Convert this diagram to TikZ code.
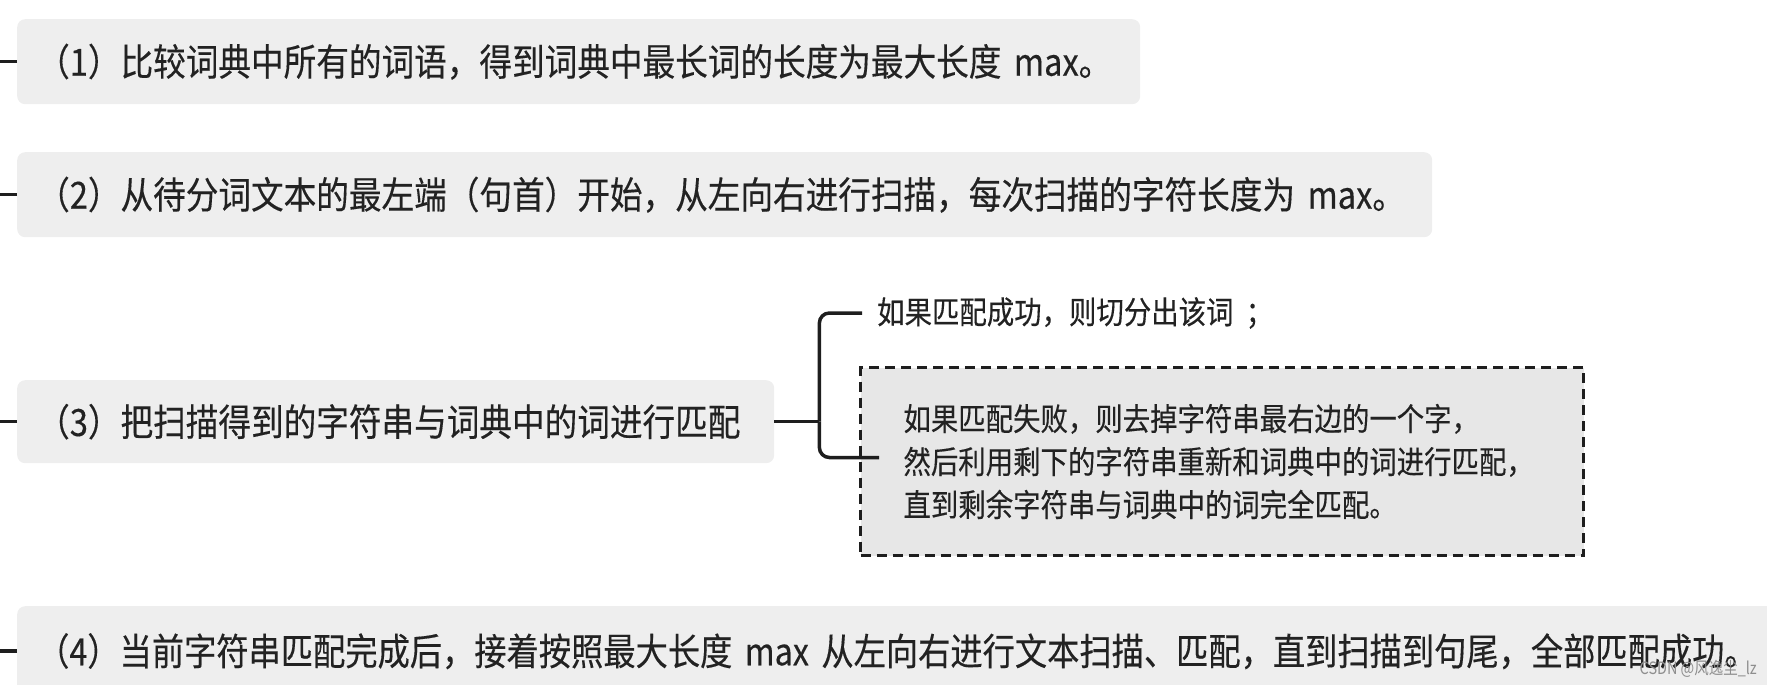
\documentclass[tikz,border=0pt]{standalone}
\usepackage{fontspec}
\newfontfamily\cjk[FakeStretch=0.87,FakeBold=0.3]{Noto Sans CJK SC}
\newfontfamily\cjkn[FakeStretch=0.86,FakeBold=0.3]{Noto Sans CJK SC}
\newfontfamily\cjkwm[FakeStretch=0.85]{Noto Sans CJK SC}
\definecolor{boxfill}{HTML}{EEEEEE}
\definecolor{dashfill}{HTML}{E7E7E7}
\definecolor{linec}{HTML}{1E1E1E}
\definecolor{txt}{HTML}{222222}
\definecolor{wm}{HTML}{8E8E8E}
\begin{document}
\begin{tikzpicture}[x=1pt,y=-1pt,
  mainbox/.style={fill=boxfill, rounded corners=8pt, anchor=north west, inner xsep=20pt, inner ysep=0pt,
    align=left, font=\cjk\fontsize{37.5}{45}\selectfont, text=txt, minimum height=85pt},
  subtext/.style={inner sep=0pt, anchor=west, font=\cjk\fontsize{31.5}{43}\selectfont, text=txt},
  dashbox/.style={fill=dashfill, draw=linec, line width=3pt, dash pattern=on 10pt off 6pt,
    anchor=north west, minimum width=723pt, minimum height=188pt, inner xsep=43pt, inner ysep=0pt,
    text width=637pt, align=left, font=\cjk\fontsize{31.5}{43}\selectfont, text=txt},
  conn/.style={draw=linec, line width=3.5pt},
  wmark/.style={inner sep=0pt, anchor=east, font=\cjkwm\fontsize{17}{20}\selectfont, text=wm}]
\useasboundingbox (0,0) rectangle (1767,685);
\clip (0,0) rectangle (1767,685);
\coordinate (L) at (0,0);

\node[mainbox, text width=1083pt] (b1) at (17,19) {（1）比较词典中所有的词语，得到词典中最长词的长度为最大长度~max。};
\node[mainbox, text width=1375pt] (b2) at (17,152) {（2）从待分词文本的最左端（句首）开始，从左向右进行扫描，每次扫描的字符长度为~max。};
\node[mainbox, text width=717pt, minimum height=83pt] (b3) at (17,380) {（3）把扫描得到的字符串与词典中的词进行匹配};
\node[mainbox, text width=1743pt, minimum height=90pt, font=\cjkn\fontsize{37.5}{45}\selectfont] (b4) at (17,606) {（4）当前字符串匹配完成后，接着按照最大长度~max~从左向右进行文本扫描、匹配，直到扫描到句尾，全部匹配成功。};

\node[subtext] (s1) at (877,313) {如果匹配成功，则切分出该词~~；};
\node[dashbox] (s2) at (859,366) {如果匹配失败，则去掉字符串最右边的一个字，\\然后利用剩下的字符串重新和词典中的词进行匹配，\\直到剩余字符串与词典中的词完全匹配。};

\draw[conn] (b1.west) -- (b1.west -| L);
\draw[conn] (b2.west) -- (b2.west -| L);
\draw[conn] (b3.west) -- (b3.west -| L);
\draw[conn] (b4.west) -- (b4.west -| L);

\coordinate (j) at ([xshift=45pt]b3.east);
\draw[conn] (b3.east) -- (j);
\draw[conn, rounded corners=10pt] (j) |- ([xshift=-15pt]s1.west);
\draw[conn, rounded corners=10pt] (j) |- ([xshift=20pt,yshift=4pt]s2.west);

\node[wmark] (wm) at (1757,669) {CSDN @风逸尘\_lz};
\end{tikzpicture}
\end{document}
